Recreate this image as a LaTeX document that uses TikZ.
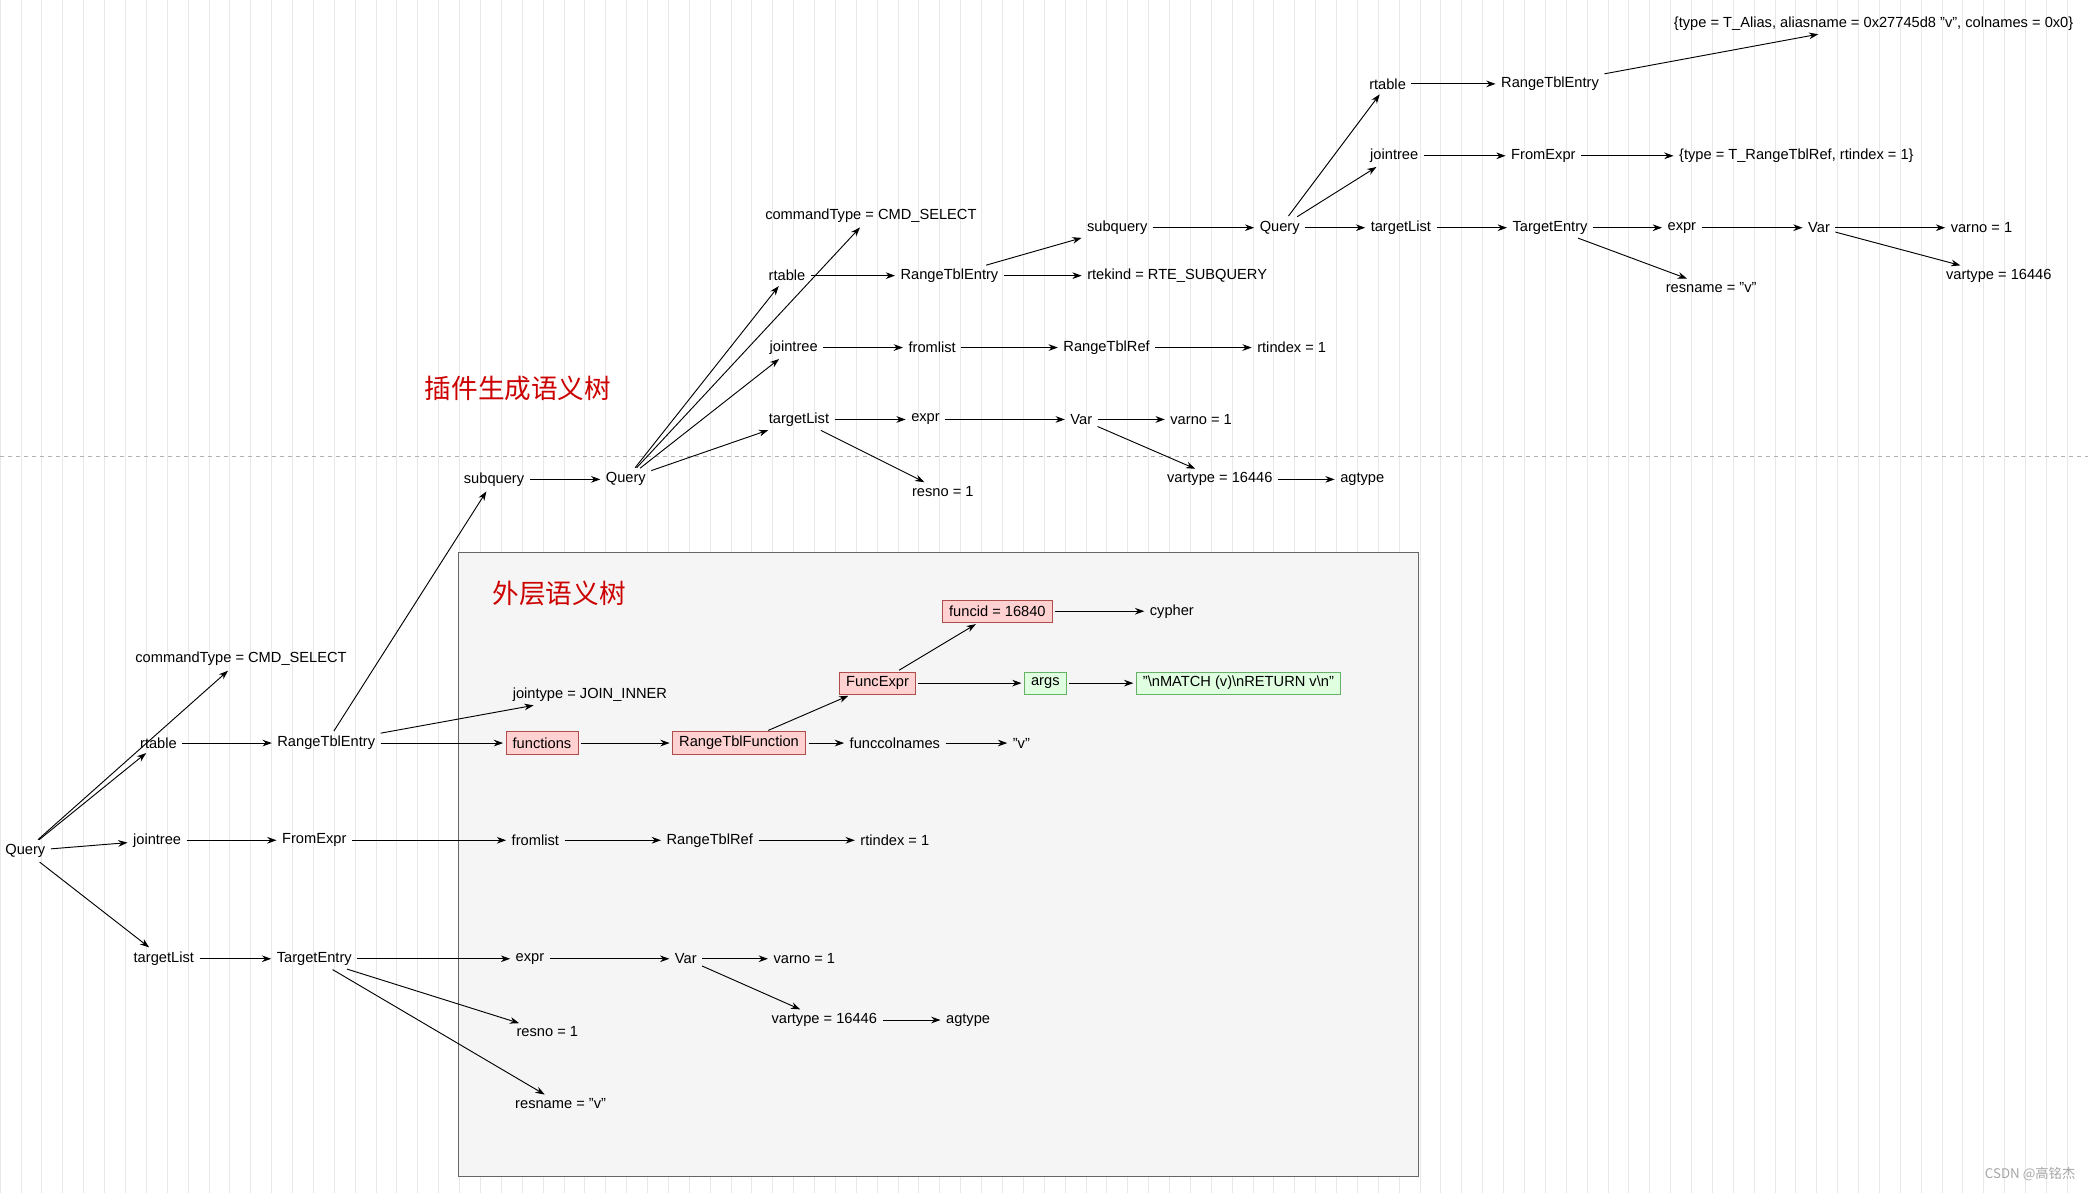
\documentclass[tikz,border=0pt]{standalone}
\usepackage{fontspec}
\setmainfont{Liberation Sans}
\newfontfamily\cjk{Noto Sans CJK SC}
\usetikzlibrary{arrows.meta}
\tikzset{
 t/.style={font=\fontsize{11}{13}\selectfont, inner sep=2pt},
 rbox/.style={t, draw=red!55!black!70, fill=red!18, minimum height=17pt, inner xsep=5pt},
 gbox/.style={t, draw=green!50!black!60, fill=green!12, minimum height=17pt, inner xsep=5pt},
 ar/.style={-{Stealth[length=7pt,width=5pt]}, line width=0.7pt, shorten >=2pt, shorten <=2pt},
 ttl/.style={font=\cjk\fontsize{20}{24}\selectfont, text=red!80!black}
}
\begin{document}
\begin{tikzpicture}[x=1pt,y=-1pt]
\useasboundingbox (0,0) rectangle (1568,896);
\fill[white] (0,0) rectangle (1568,896);
\draw[gray!18, step=15.68] (0,-896) grid (1568,0);
\draw[gray!18] (0,0) grid[step=15.68] (1568,896);
\draw[gray!60, dashed] (0,343) -- (1568,343);
\draw[gray!80!black, fill=gray!8] (344,415) rectangle (1065,883);
\node[ttl] (title1) at (389,292) {插件生成语义树};
\node[ttl] (title2) at (420,446) {外层语义树};
% outer tree
\node[t] (Q0) at (19,639) {Query};
\node[t] (cmd0) at (181,495) {commandType = CMD\_SELECT};
\node[t] (rt0) at (119,558) {rtable};
\node[t] (jt0) at (118,631) {jointree};
\node[t] (tl0) at (123,720) {targetList};
\node[t] (rte0) at (245,558) {RangeTblEntry};
\node[t] (fe0) at (236,631) {FromExpr};
\node[t] (te0) at (236,720) {TargetEntry};
\node[t] (sub0) at (371,360) {subquery};
\node[t] (jty) at (443,522) {jointype = JOIN\_INNER};
\node[rbox] (fun) at (407,558) {functions};
\node[rbox] (rtf) at (555,558) {RangeTblFunction};
\node[t] (fl0) at (402,631) {fromlist};
\node[t] (rtr0) at (533,631) {RangeTblRef};
\node[t] (rti0) at (672,631) {rtindex = 1};
\node[t] (expr0) at (398,720) {expr};
\node[t] (var0) at (515,720) {Var};
\node[t] (varno0) at (604,720) {varno = 1};
\node[t] (vt0) at (619,766) {vartype = 16446};
\node[t] (ag0) at (727,766) {agtype};
\node[t] (resno0) at (411,775) {resno = 1};
\node[t] (resn0) at (421,829) {resname = "v"};
\node[rbox] (fex) at (659,513) {FuncExpr};
\node[rbox] (fid) at (749,459) {funcid = 16840};
\node[t] (cy) at (880,459) {cypher};
\node[gbox] (args) at (785,513) {args};
\node[gbox] (argv) at (930,513) {"\textbackslash nMATCH (v)\textbackslash nRETURN v\textbackslash n"};
\node[t] (fcn) at (672,558) {funccolnames};
\node[t] (fcv) at (767,558) {"v"};
% inner tree
\node[t] (Q1) at (470,360) {Query};
\node[t] (cmd1) at (654,162) {commandType = CMD\_SELECT};
\node[t] (rt1) at (591,207) {rtable};
\node[t] (jt1) at (596,261) {jointree};
\node[t] (tl1) at (600,315) {targetList};
\node[t] (rte1) at (713,207) {RangeTblEntry};
\node[t] (rk) at (884,207) {rtekind = RTE\_SUBQUERY};
\node[t] (sub1) at (839,171) {subquery};
\node[t] (Q2) at (961,171) {Query};
\node[t] (fl1) at (700,261) {fromlist};
\node[t] (rtr1) at (831,261) {RangeTblRef};
\node[t] (rti1) at (970,261) {rtindex = 1};
\node[t] (expr1) at (695,315) {expr};
\node[t] (var1) at (812,315) {Var};
\node[t] (varno1) at (902,315) {varno = 1};
\node[t] (resno1) at (708,369) {resno = 1};
\node[t] (vt1) at (916,360) {vartype = 16446};
\node[t] (ag1) at (1023,360) {agtype};
\node[t] (rt2) at (1042,63) {rtable};
\node[t] (rte2) at (1164,63) {RangeTblEntry};
\node[t] (alias) at (1407,18) {\{type = T\_Alias, aliasname = 0x27745d8 "v", colnames = 0x0\}};
\node[t] (jt2) at (1047,117) {jointree};
\node[t] (fe2) at (1159,117) {FromExpr};
\node[t] (rr2) at (1349,117) {\{type = T\_RangeTblRef, rtindex = 1\}};
\node[t] (tl2) at (1052,171) {targetList};
\node[t] (te2) at (1164,171) {TargetEntry};
\node[t] (expr2) at (1263,171) {expr};
\node[t] (var2) at (1366,171) {Var};
\node[t] (varno2) at (1488,171) {varno = 1};
\node[t] (vt2) at (1501,207) {vartype = 16446};
\node[t] (resn2) at (1285,216) {resname = "v"};
% edges outer
\foreach \a/\b in {Q0/cmd0,Q0/rt0,Q0/jt0,Q0/tl0,rt0/rte0,jt0/fe0,tl0/te0,rte0/sub0,rte0/jty,rte0/fun,fun/rtf,rtf/fex,rtf/fcn,fcn/fcv,fex/fid,fid/cy,fex/args,args/argv,fe0/fl0,fl0/rtr0,rtr0/rti0,te0/expr0,te0/resno0,te0/resn0,expr0/var0,var0/varno0,var0/vt0,vt0/ag0,sub0/Q1,
Q1/cmd1,Q1/rt1,Q1/jt1,Q1/tl1,rt1/rte1,rte1/rk,rte1/sub1,sub1/Q2,jt1/fl1,fl1/rtr1,rtr1/rti1,tl1/expr1,tl1/resno1,expr1/var1,var1/varno1,var1/vt1,vt1/ag1,
Q2/rt2,Q2/jt2,Q2/tl2,rt2/rte2,rte2/alias,jt2/fe2,fe2/rr2,tl2/te2,te2/expr2,te2/resn2,expr2/var2,var2/varno2,var2/vt2}
 \draw[ar] (\a) -- (\b);
\node[font=\cjk\fontsize{10}{12}\selectfont, text=gray!70, anchor=south east] (wm) at (1562,890) {CSDN @高铭杰};
\end{tikzpicture}
\end{document}
